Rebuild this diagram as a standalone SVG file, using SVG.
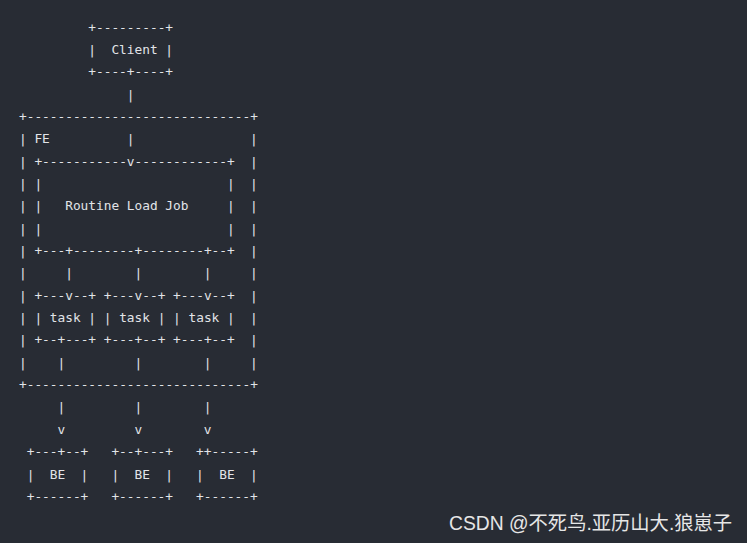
<svg xmlns="http://www.w3.org/2000/svg" width="747" height="543" viewBox="0 0 747 543">
<style>
.code{font-family:"DejaVu Sans Mono","Liberation Mono",monospace;font-size:12.8px;fill:#e2e4e8}
.wm{font-family:"Liberation Sans","Noto Sans CJK SC",sans-serif;font-size:19.3px;fill:#e6e6e6}
</style>
<rect x="0" y="0" width="747" height="543" fill="#282c34"/>
<g id="client" class="code">
<text x="88.3" y="31.5">+---------+</text>
<text x="88.3" y="53.85">|</text><text x="111.4" y="53.85">Client |</text>
<text x="88.3" y="76.2">+----+----+</text>
</g>
<g id="connectors" class="code">
<text x="126.8" y="98.55">|</text>
<text x="57.5" y="411.45">|</text><text x="134.5" y="411.45">|</text><text x="203.8" y="411.45">|</text>
<text x="57.5" y="433.8">v</text><text x="134.5" y="433.8">v</text><text x="203.8" y="433.8">v</text>
</g>
<g id="fe" class="code">
<text x="19" y="120.9">+-----------------------------+</text>
<text x="19" y="143.25">| FE</text><text x="126.8" y="143.25">|</text><text x="250" y="143.25">|</text>
<text x="19" y="165.6">| +-----------v------------+</text><text x="250" y="165.6">|</text>
<text x="19" y="187.95">| |</text><text x="226.9" y="187.95">|</text><text x="250" y="187.95">|</text>
<text x="19" y="210.3">| |</text><text x="65.2" y="210.3">Routine Load Job</text><text x="226.9" y="210.3">|</text><text x="250" y="210.3">|</text>
<text x="19" y="232.65">| |</text><text x="226.9" y="232.65">|</text><text x="250" y="232.65">|</text>
<text x="19" y="255">| +---+--------+--------+--+</text><text x="250" y="255">|</text>
<text x="19" y="277.35">|</text><text x="65.2" y="277.35">|</text><text x="134.5" y="277.35">|</text><text x="203.8" y="277.35">|</text><text x="250" y="277.35">|</text>
<text x="19" y="299.7">| +---v--+ +---v--+ +---v--+</text><text x="250" y="299.7">|</text>
<text x="19" y="322.05">| | task | | task | | task |</text><text x="250" y="322.05">|</text>
<text x="19" y="344.4">| +--+---+ +---+--+ +---+--+</text><text x="250" y="344.4">|</text>
<text x="19" y="366.75">|</text><text x="57.5" y="366.75">|</text><text x="134.5" y="366.75">|</text><text x="203.8" y="366.75">|</text><text x="250" y="366.75">|</text>
<text x="19" y="389.1">+-----------------------------+</text>
</g>
<g id="be1" class="code">
<text x="26.7" y="456.15">+---+--+</text>
<text x="26.7" y="478.5">|</text><text x="49.8" y="478.5">BE</text><text x="80.6" y="478.5">|</text>
<text x="26.7" y="500.85">+------+</text>
</g>
<g id="be2" class="code">
<text x="111.4" y="456.15">+--+---+</text>
<text x="111.4" y="478.5">|</text><text x="134.5" y="478.5">BE</text><text x="165.3" y="478.5">|</text>
<text x="111.4" y="500.85">+------+</text>
</g>
<g id="be3" class="code">
<text x="196.1" y="456.15">++-----+</text>
<text x="196.1" y="478.5">|</text><text x="219.2" y="478.5">BE</text><text x="250" y="478.5">|</text>
<text x="196.1" y="500.85">+------+</text>
</g>
<text class="wm" x="449" y="530">CSDN @不死鸟.亚历山大.狼崽子</text>
</svg>
